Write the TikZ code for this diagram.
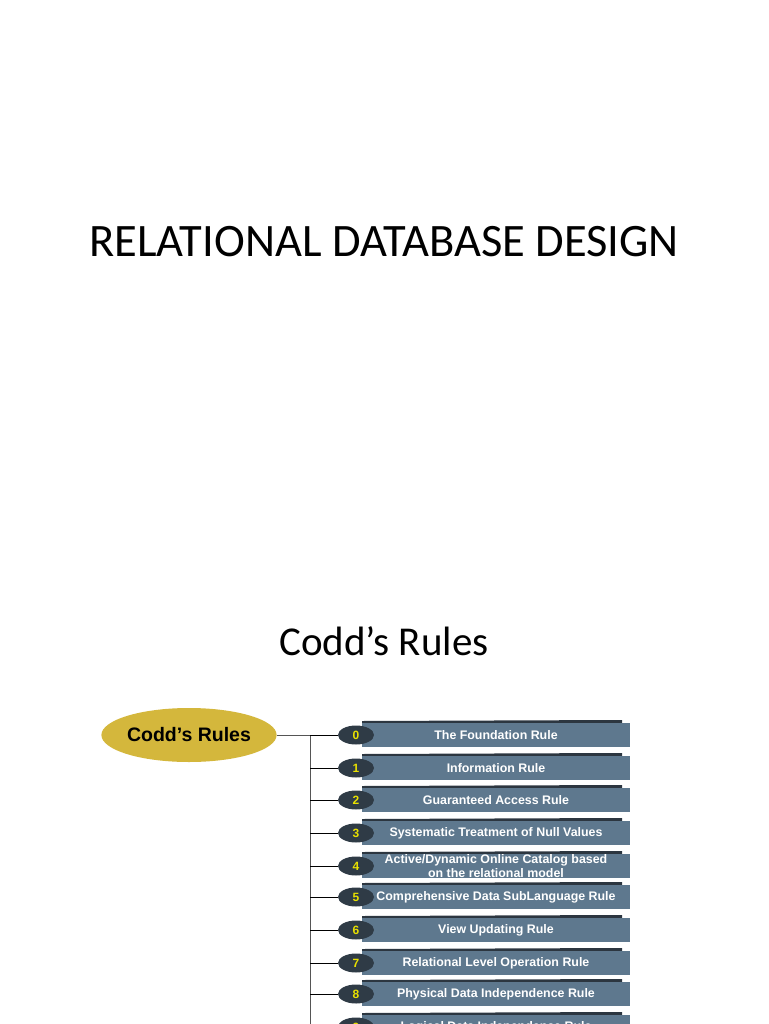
\documentclass[tikz,border=0pt]{standalone}
\usepackage{fontspec}
\setmainfont{Carlito}
\newfontfamily\arialb{Liberation Sans}
\definecolor{gold}{HTML}{D4B73C}
\definecolor{boxc}{HTML}{5E788E}
\definecolor{boxd}{HTML}{2C3640}
\definecolor{numc}{HTML}{2F3B46}
\definecolor{numt}{HTML}{E8E000}
\definecolor{linec}{HTML}{555555}
\tikzset{
  rulebox/.style={fill=boxc,minimum width=268pt,minimum height=24pt,inner sep=0pt,text=white,font=\arialb\bfseries\fontsize{12.4}{13.5}\selectfont,align=center},
  numbox/.style={ellipse,fill=numc,minimum width=36pt,minimum height=19pt,inner sep=0pt,text=numt,font=\arialb\bfseries\fontsize{12}{12}\selectfont},
}
\usetikzlibrary{shapes.geometric}
\begin{document}
\begin{tikzpicture}[x=1pt,y=-1pt]
\useasboundingbox (0,0) rectangle (768,1024);
\clip (0,0) rectangle (768,1024);
\node[font=\fontsize{46.5}{50}\selectfont] (title) at (384,242) {RELATIONAL DATABASE DESIGN};
\node[font=\fontsize{41}{46}\selectfont] (sub) at (384,641) {Codd\char39 s Rules};
\node[ellipse,fill=gold,minimum width=166pt,minimum height=54pt,inner sep=0pt,font=\arialb\bfseries\fontsize{19.5}{20}\selectfont] (cr) at (189,735) {Codd’s Rules};
\coordinate (trunk) at (310,735);
\coordinate (bot) at (310,1030);
\draw[linec,line width=1pt] (cr.east) -- (trunk) -- (bot);
\foreach \i/\y/\t in {0/735/The Foundation Rule,1/768/Information Rule,2/800/Guaranteed Access Rule,3/833/Systematic Treatment of Null Values,4/866/{Active/Dynamic Online Catalog based\\on the relational model},5/897/Comprehensive Data SubLanguage Rule,6/930/View Updating Rule,7/963/Relational Level Operation Rule,8/994/Physical Data Independence Rule,9/1027/Logical Data Independence Rule}{
  \fill[boxd] (362,\y-14) -- (622,\y-15) -- (622,\y-11) -- (362,\y-11) -- cycle;
  \node[rulebox] (r\i) at (496,\y) {\t};
  \coordinate (b\i) at (310,\y);
  \node[numbox] (n\i) at (356,\y) {\i};
  \draw[black,line width=0.9pt] (b\i) -- (n\i.west);
}
\end{tikzpicture}
\end{document}
